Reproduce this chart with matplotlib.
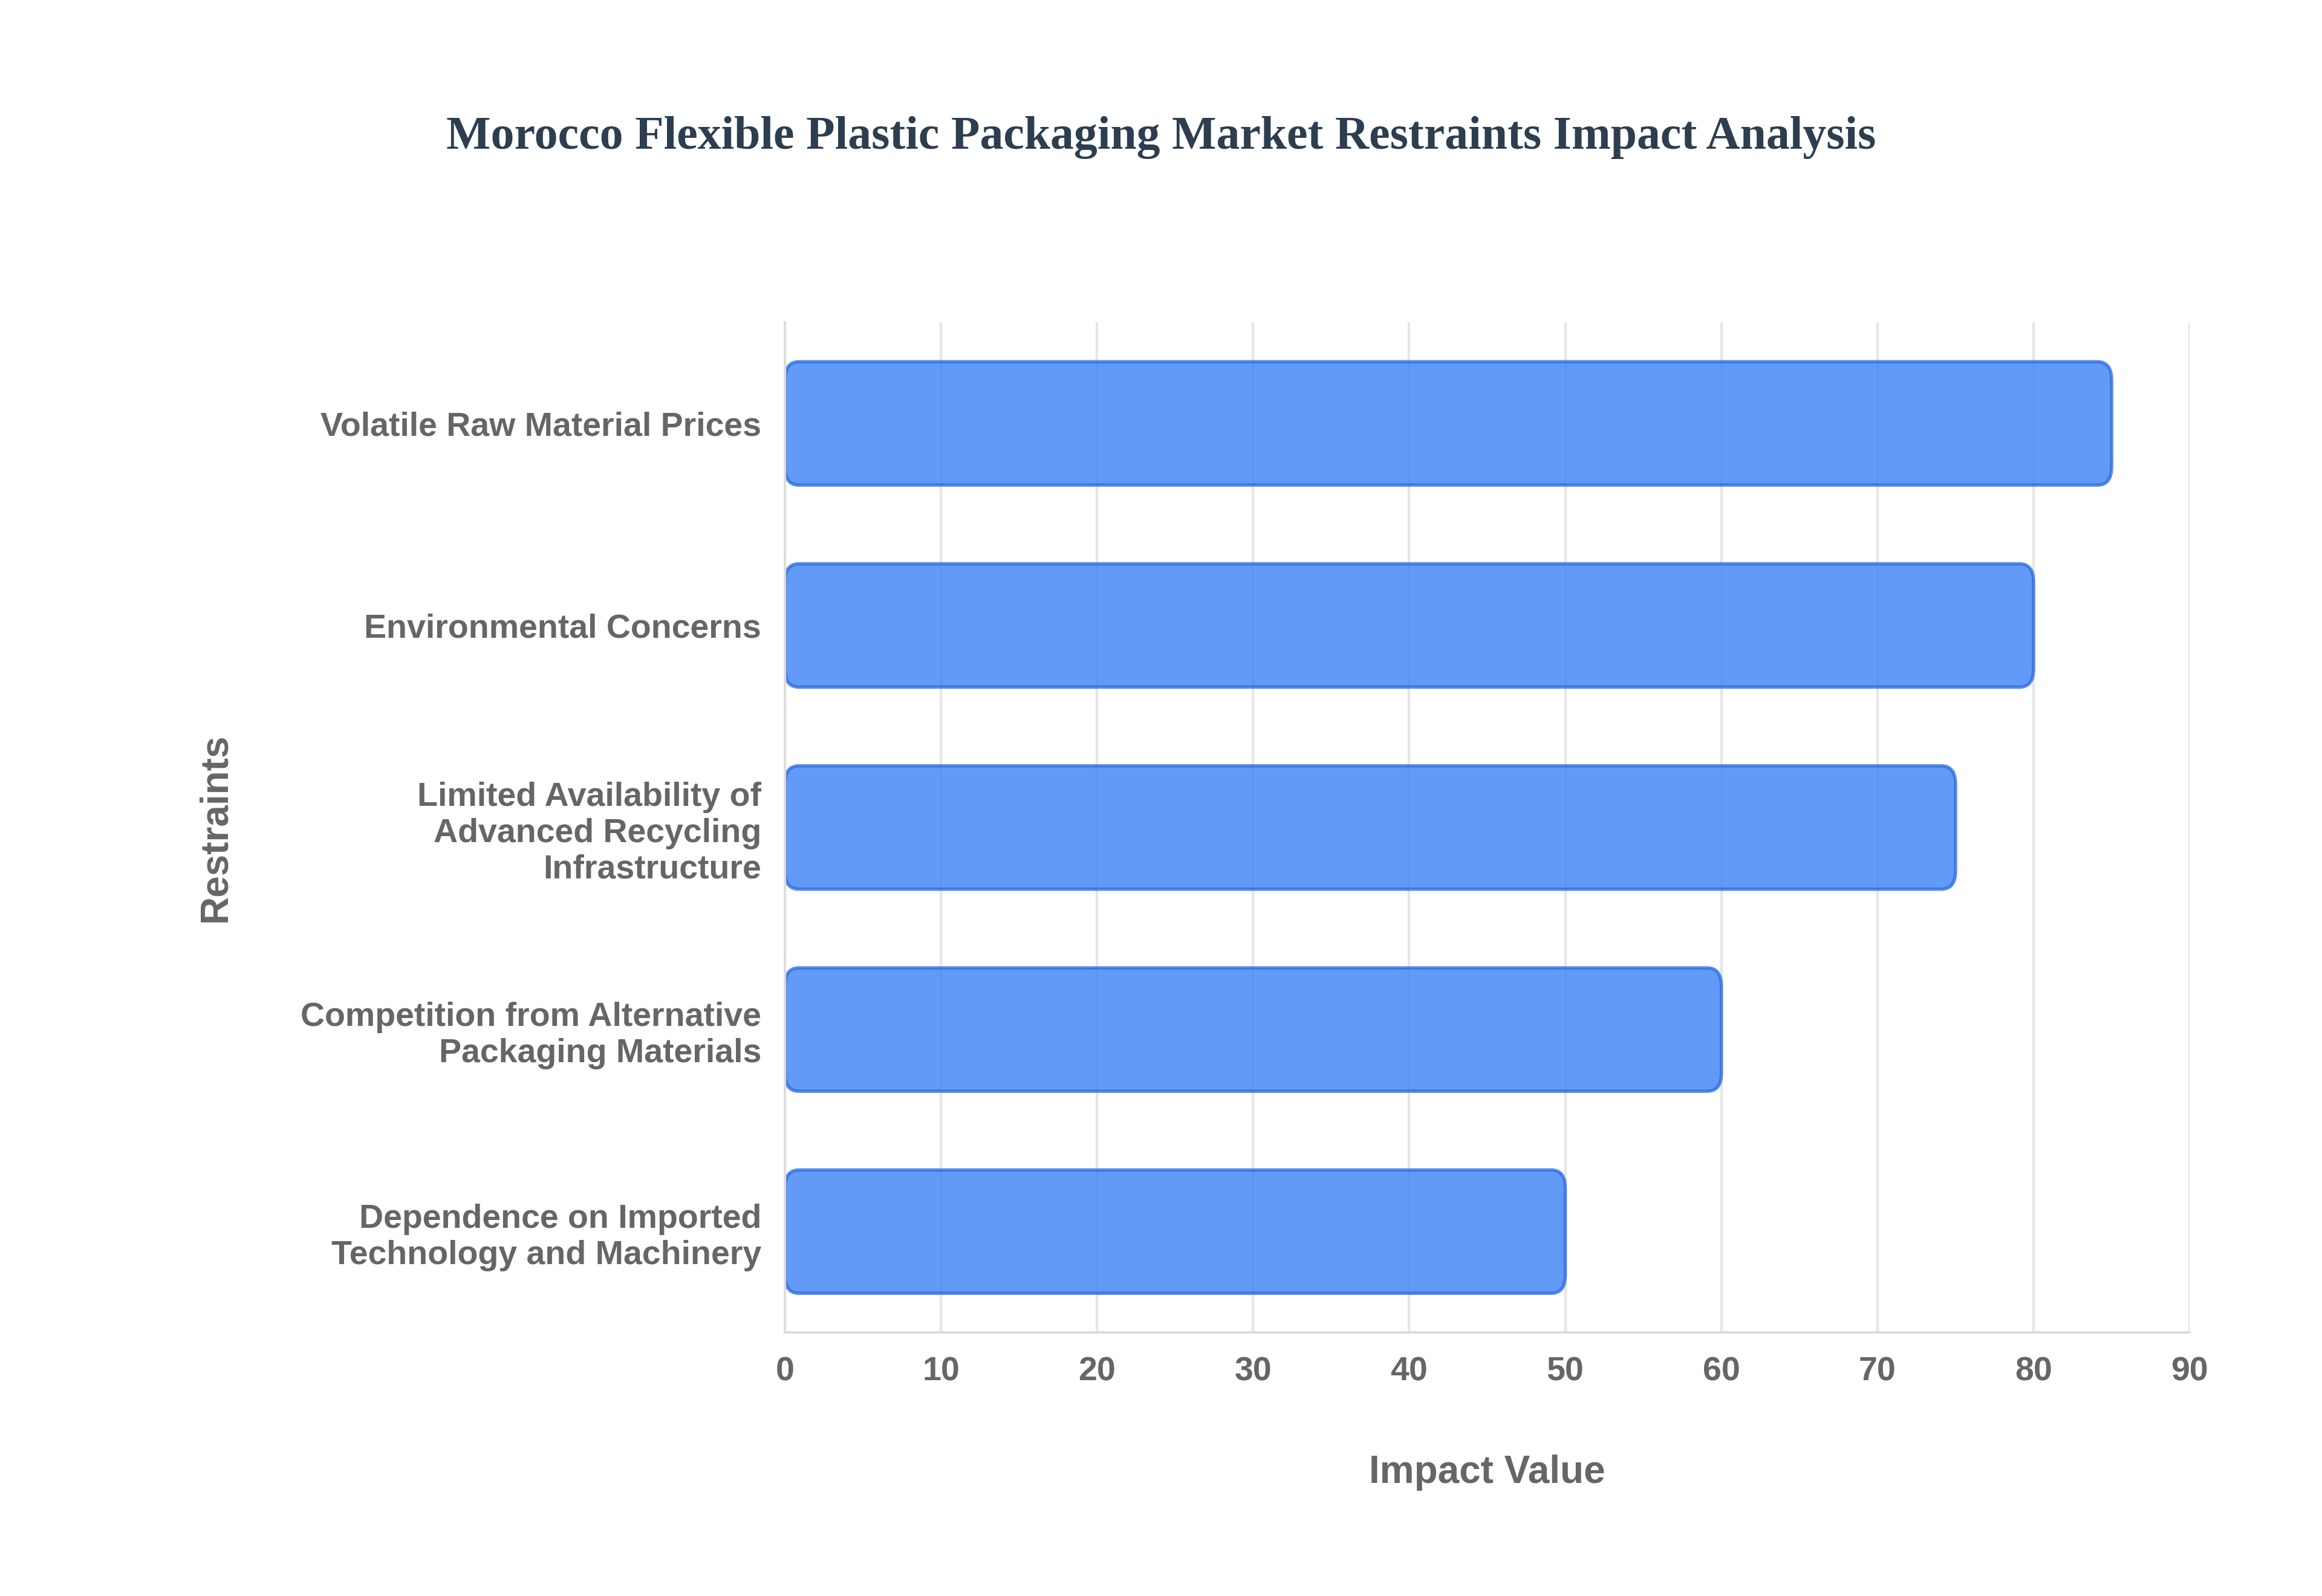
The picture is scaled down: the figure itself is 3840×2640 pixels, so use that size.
import matplotlib.pyplot as plt
from matplotlib.patches import FancyBboxPatch

restraints = [
    "Volatile Raw Material Prices",
    "Environmental Concerns",
    "Limited Availability of\nAdvanced Recycling\nInfrastructure",
    "Competition from Alternative\nPackaging Materials",
    "Dependence on Imported\nTechnology and Machinery",
]
impact = [85, 80, 75, 60, 50]

fig = plt.figure(figsize=(19.2, 13.2), dpi=200)
ax = fig.add_axes([0.338, 0.165, 0.605, 0.633])

ypos = list(range(len(restraints)))[::-1]
h = 0.61
for y, v in zip(ypos, impact):
    ax.add_patch(FancyBboxPatch((0, y - h / 2), v, h,
                                boxstyle="round,pad=0,rounding_size=0.9",
                                mutation_aspect=0.1,
                                facecolor="#3b82f6", alpha=0.8,
                                edgecolor="#2f6fe0", linewidth=2))

ax.set_xlim(0, 90)
ax.set_ylim(-0.5, 4.5)
ax.set_xticks(range(0, 91, 10))
ax.set_yticks(ypos)
ax.set_yticklabels(restraints)
ax.grid(axis="x", color="#e6e6e6", linewidth=1.5)
ax.set_axisbelow(True)
for s in ["top", "right"]:
    ax.spines[s].set_visible(False)
for s in ["left", "bottom"]:
    ax.spines[s].set_color("#dddddd")
    ax.spines[s].set_linewidth(1.5)
ax.tick_params(length=0, pad=14)
for lab in ax.get_xticklabels() + ax.get_yticklabels():
    lab.set_fontfamily("Liberation Sans")
    lab.set_fontweight("bold")
    lab.set_fontsize(20)
    lab.set_color("#666666")

ax.set_xlabel("Impact Value", fontfamily="Liberation Sans", fontweight="bold",
              fontsize=23, color="#666666", labelpad=40)
ax.set_ylabel("Restraints", fontfamily="Liberation Sans", fontweight="bold",
              fontsize=23, color="#666666", labelpad=40)

fig.text(0.5, 0.914, "Morocco Flexible Plastic Packaging Market Restraints Impact Analysis",
         ha="center", va="center", fontfamily="Liberation Serif", fontweight="bold",
         fontsize=28, color="#2c3e50")

fig.savefig("out.png", dpi=200, facecolor="white")
